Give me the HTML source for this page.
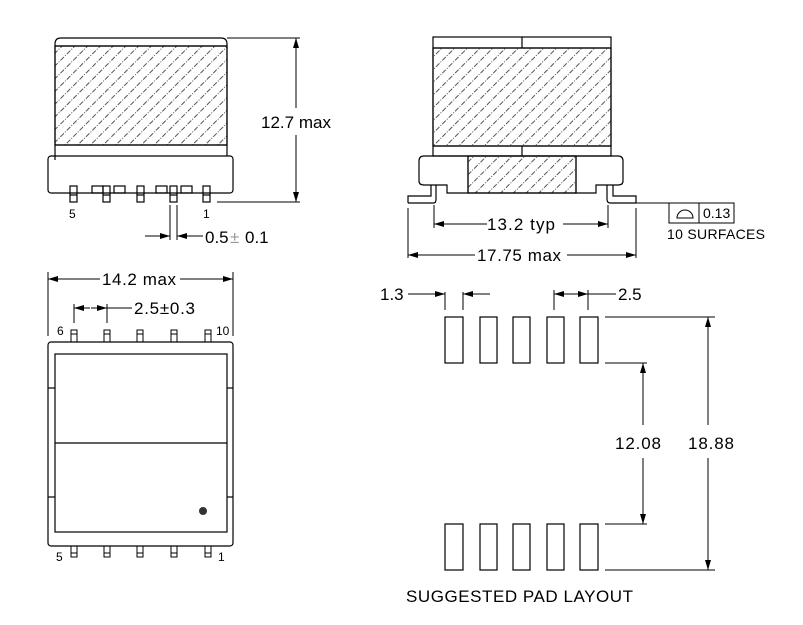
<!DOCTYPE html>
<html><head><meta charset="utf-8"><style>
html,body{margin:0;padding:0;background:#fff;width:803px;height:625px;overflow:hidden}
svg text{font-family:"Liberation Sans",sans-serif;fill:#000}
</style></head><body>
<svg width="803" height="625" viewBox="0 0 803 625" xmlns="http://www.w3.org/2000/svg">
<defs>
<pattern id="h" width="9" height="9" patternUnits="userSpaceOnUse" patternTransform="rotate(-45)">
<line x1="0" y1="4.5" x2="9" y2="4.5" stroke="#555" stroke-width="1" stroke-dasharray="5 1.5 1 1.5"/>
</pattern>
<marker id="a" viewBox="0 0 10 6" refX="10" refY="3" markerWidth="10" markerHeight="6" orient="auto-start-reverse" markerUnits="userSpaceOnUse"><path d="M0,0 L10,3 L0,6 z" fill="#000"/></marker>
</defs>
<g fill="none" stroke="#000" stroke-width="1.2">
<!-- top-left view -->
<path d="M55,160 L55,44 Q55,38 61,38 L221,38 Q227,38 227,44 L227,156"/>
<rect x="55" y="46" width="172" height="99" fill="url(#h)"/>
<line x1="55" y1="46" x2="227" y2="46"/><line x1="55" y1="145" x2="227" y2="145"/>
<rect x="48" y="156" width="185" height="37" rx="3"/>
<g>
<rect x="70" y="186" width="7" height="16"/><line x1="70" y1="195" x2="77" y2="195"/>
<rect x="103" y="186" width="7" height="16"/><line x1="103" y1="195" x2="110" y2="195"/>
<rect x="137" y="186" width="7" height="16"/><line x1="137" y1="195" x2="144" y2="195"/>
<rect x="170" y="186" width="7" height="16"/><line x1="170" y1="195" x2="177" y2="195"/>
<rect x="203" y="186" width="7" height="16"/><line x1="203" y1="195" x2="210" y2="195"/>
<rect x="92" y="186" width="11" height="7"/><rect x="114" y="186" width="11" height="7"/>
<rect x="156" y="186" width="11" height="7"/><rect x="181" y="186" width="11" height="7"/>
</g>
<line x1="227" y1="38" x2="300" y2="38" stroke-width="1"/>
<line x1="217" y1="202" x2="300" y2="202" stroke-width="1"/>
<line x1="296" y1="108" x2="296" y2="38" marker-end="url(#a)" stroke-width="1"/>
<line x1="296" y1="135" x2="296" y2="202" marker-end="url(#a)" stroke-width="1"/>
<line x1="170" y1="205" x2="170" y2="240" stroke-width="1"/><line x1="177" y1="205" x2="177" y2="240" stroke-width="1"/>
<line x1="145" y1="236" x2="170" y2="236" marker-end="url(#a)" stroke-width="1"/>
<line x1="203" y1="236" x2="177" y2="236" marker-end="url(#a)" stroke-width="1"/>

<!-- top-right view -->
<rect x="433" y="37" width="178" height="119"/>
<rect x="433" y="48" width="178" height="98" fill="url(#h)"/>
<line x1="433" y1="48" x2="611" y2="48"/><line x1="433" y1="146" x2="611" y2="146"/>
<line x1="522" y1="37" x2="522" y2="48"/><line x1="522" y1="146" x2="522" y2="156"/>
<path d="M424,156 L618,156 Q623,156 623,161 L623,181 Q623,185 618,185 L596,185 L596,193 L576,193 L576,156"/>
<path d="M468,156 L468,193 L447,193 L447,185 L424,185 Q419,185 419,181 L419,161 Q419,156 424,156"/>
<rect x="468" y="156" width="108" height="37" fill="url(#h)"/>
<line x1="468" y1="193" x2="576" y2="193"/>
<path d="M408,203 L434,203 Q436,203 436,199 L436,185 M408,203 L408,196 L431,196 L431,185"/>
<path d="M636,203 L610,203 Q607,203 607,199 L607,185 M636,203 L636,196 L613,196 L613,185"/>
<line x1="636" y1="203" x2="670" y2="203" stroke-width="1"/>
<rect x="669" y="203" width="30" height="20" stroke-width="1"/><rect x="699" y="203" width="35" height="20" stroke-width="1"/>
<path d="M677,218 A8,8 0 0 1 693,218 Z" stroke-width="1"/>
<line x1="408" y1="208" x2="408" y2="258" stroke-width="1"/><line x1="636" y1="208" x2="636" y2="258" stroke-width="1"/>
<line x1="434" y1="205" x2="434" y2="228" stroke-width="1"/><line x1="608" y1="205" x2="608" y2="228" stroke-width="1"/>
<line x1="487" y1="224" x2="434" y2="224" marker-end="url(#a)" stroke-width="1"/>
<line x1="563" y1="224" x2="608" y2="224" marker-end="url(#a)" stroke-width="1"/>
<line x1="475" y1="255" x2="408" y2="255" marker-end="url(#a)" stroke-width="1"/>
<line x1="567" y1="255" x2="636" y2="255" marker-end="url(#a)" stroke-width="1"/>

<!-- bottom-left view -->
<rect x="48" y="342" width="185" height="204" rx="3"/>
<rect x="55" y="354" width="172" height="178" fill="#fff"/>
<line x1="55" y1="443" x2="227" y2="443"/>
<line x1="48" y1="388" x2="55" y2="388"/><line x1="227" y1="388" x2="233" y2="388"/>
<line x1="48" y1="497" x2="55" y2="497"/><line x1="227" y1="497" x2="233" y2="497"/>
<g stroke-width="1">
<rect x="71" y="330" width="6" height="12"/><line x1="71" y1="334" x2="77" y2="334"/>
<rect x="104" y="330" width="6" height="12"/><line x1="104" y1="334" x2="110" y2="334"/>
<rect x="137" y="330" width="6" height="12"/><line x1="137" y1="334" x2="143" y2="334"/>
<rect x="171" y="330" width="6" height="12"/><line x1="171" y1="334" x2="177" y2="334"/>
<rect x="205" y="330" width="6" height="12"/><line x1="205" y1="334" x2="211" y2="334"/>
<rect x="71" y="546" width="6" height="11"/><line x1="71" y1="553" x2="77" y2="553"/>
<rect x="104" y="546" width="6" height="11"/><line x1="104" y1="553" x2="110" y2="553"/>
<rect x="137" y="546" width="6" height="11"/><line x1="137" y1="553" x2="143" y2="553"/>
<rect x="171" y="546" width="6" height="11"/><line x1="171" y1="553" x2="177" y2="553"/>
<rect x="205" y="546" width="6" height="11"/><line x1="205" y1="553" x2="211" y2="553"/>
</g>
<circle cx="203" cy="511" r="4" fill="#333" stroke="none"/>
<line x1="48" y1="272" x2="48" y2="336" stroke-width="1"/><line x1="233" y1="272" x2="233" y2="336" stroke-width="1"/>
<line x1="100" y1="279" x2="48" y2="279" marker-end="url(#a)" stroke-width="1"/>
<line x1="180" y1="279" x2="233" y2="279" marker-end="url(#a)" stroke-width="1"/>
<line x1="74" y1="304" x2="74" y2="323" stroke-width="1"/><line x1="107" y1="304" x2="107" y2="323" stroke-width="1"/>
<line x1="90" y1="308" x2="74" y2="308" marker-end="url(#a)" stroke-width="1"/>
<line x1="91" y1="308" x2="107" y2="308" marker-end="url(#a)" stroke-width="1"/>
<line x1="107" y1="308" x2="132" y2="308" stroke-width="1"/>

<!-- pads -->
<rect x="445" y="317" width="18" height="46"/><rect x="480" y="317" width="17" height="46"/>
<rect x="513" y="317" width="17" height="46"/><rect x="547" y="317" width="17" height="46"/>
<rect x="580" y="317" width="18" height="46"/>
<rect x="445" y="524" width="18" height="46"/><rect x="480" y="524" width="17" height="46"/>
<rect x="513" y="524" width="17" height="46"/><rect x="547" y="524" width="17" height="46"/>
<rect x="580" y="524" width="18" height="46"/>
<g stroke-width="1">
<line x1="605" y1="317" x2="715" y2="317"/><line x1="605" y1="570" x2="715" y2="570"/>
<line x1="605" y1="363" x2="647" y2="363"/><line x1="605" y1="524" x2="647" y2="524"/>
<line x1="708" y1="425" x2="708" y2="317" marker-end="url(#a)"/>
<line x1="708" y1="458" x2="708" y2="570" marker-end="url(#a)"/>
<line x1="643" y1="425" x2="643" y2="363" marker-end="url(#a)"/>
<line x1="643" y1="458" x2="643" y2="524" marker-end="url(#a)"/>
<line x1="445" y1="292" x2="445" y2="310"/><line x1="463" y1="292" x2="463" y2="310"/>
<line x1="408" y1="294" x2="445" y2="294" marker-end="url(#a)"/>
<line x1="490" y1="294" x2="463" y2="294" marker-end="url(#a)"/>
<line x1="554" y1="290" x2="554" y2="310"/><line x1="588" y1="290" x2="588" y2="310"/>
<line x1="571" y1="294" x2="554" y2="294" marker-end="url(#a)"/>
<line x1="571" y1="294" x2="588" y2="294" marker-end="url(#a)"/>
<line x1="588" y1="294" x2="616" y2="294"/>
</g>
</g>
<g font-size="17">
<text x="261" y="128" textLength="70">12.7 max</text>
<text x="205" y="243">0.5</text><text x="230" y="243" style="fill:#999">±</text><text x="245" y="243">0.1</text>
<text x="487" y="230" textLength="68">13.2 typ</text>
<text x="477" y="261" textLength="84">17.75 max</text>
<text x="102" y="285" textLength="74">14.2 max</text>
<text x="134" y="314" textLength="61">2.5±0.3</text>
<text x="380" y="300">1.3</text>
<text x="618" y="300">2.5</text>
<text x="615" y="449" textLength="46">12.08</text>
<text x="688" y="449" textLength="46">18.88</text>
<text x="406" y="602" textLength="227">SUGGESTED PAD LAYOUT</text>
</g>
<g font-size="14">
<text x="667" y="239" textLength="98">10 SURFACES</text>
<text x="703" y="218">0.13</text>
</g>
<g font-size="12" style="fill:#222">
<text x="69" y="218">5</text><text x="203" y="218">1</text>
<text x="57" y="335">6</text><text x="216" y="335">10</text>
<text x="56" y="561">5</text><text x="218" y="561">1</text>
</g>
</svg>
</body></html>
